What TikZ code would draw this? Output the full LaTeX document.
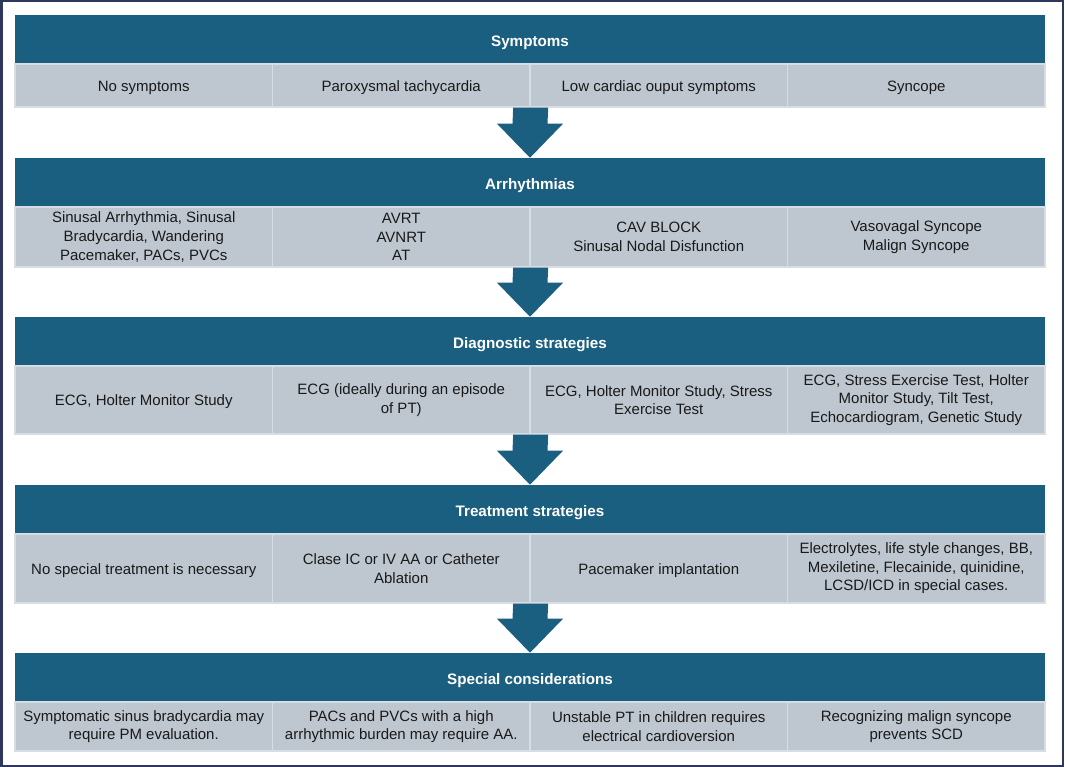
\documentclass[tikz,border=0pt]{standalone}
\usepackage{fontspec}
\setmainfont{Liberation Sans}
\usetikzlibrary{calc}
\definecolor{hdr}{RGB}{27,95,128}
\definecolor{cellbg}{RGB}{190,199,208}
\definecolor{celledge}{RGB}{214,221,228}
\definecolor{framecol}{RGB}{46,56,92}
\definecolor{txt}{RGB}{25,25,25}
\def\px{0.75pt}
\newcommand\flowarr[2]{%
  \fill[hdr] ($(#1)+(-17.5,0)$) -- ($(#2)+(-17.5,-34)$) -- ($(#2)+(-33,-34)$) -- (#2)
    -- ($(#2)+(33,-34)$) -- ($(#2)+(17.5,-34)$) -- ($(#1)+(17.5,0)$) -- cycle;}
\begin{document}
\begin{tikzpicture}[x=0.75pt,y=-0.75pt,
  hdrbox/.style={fill=hdr, minimum width=1030*\px, minimum height=49*\px, inner sep=0pt,
    text=white, font=\fontsize{11.4}{13}\selectfont\bfseries, text height=11.2pt, text depth=0pt},
  cellbox/.style={fill=cellbg, draw=celledge, line width=1pt, minimum width=257.5*\px,
    minimum height=#1*\px, inner sep=0pt, text=txt, align=center,
    font=\fontsize{11.25}{13.9}\selectfont},
  cellone/.style={cellbox=#1, text height=8.8pt, text depth=0pt}]
\useasboundingbox (0,0) rectangle (1065,767);
\draw[framecol, line width=1.5pt] (1.5,1.5) rectangle (1062.5,765.5);

% Band 1
\node[hdrbox] (h1) at (530,39.5) {Symptoms};
\node[cellone=43] (c11) at (143.75,85.5) {No symptoms};
\node[cellone=43] (c12) at (401.25,85.5) {Paroxysmal tachycardia};
\node[cellone=43] (c13) at (658.75,85.5) {Low cardiac ouput symptoms};
\node[cellone=43] (c14) at (916.25,85.5) {Syncope};

% Band 2
\node[hdrbox] (h2) at (530,182.5) {Arrhythmias};
\node[cellbox=60] (c21) at (143.75,237) {Sinusal Arrhythmia, Sinusal\\Bradycardia, Wandering\\Pacemaker, PACs, PVCs};
\node[cellbox=60] (c22) at (401.25,237) {AVRT\\AVNRT\\AT};
\node[cellbox=60] (c23) at (658.75,237) {CAV BLOCK\\Sinusal Nodal Disfunction};
\node[cellbox=60] (c24) at (916.25,237) {Vasovagal Syncope\\Malign Syncope};

% Band 3
\node[hdrbox] (h3) at (530,341.5) {Diagnostic strategies};
\node[cellone=68] (c31) at (143.75,400) {ECG, Holter Monitor Study};
\node[cellbox=68] (c32) at (401.25,400) {ECG (ideally during an episode\\of PT)};
\node[cellbox=68] (c33) at (658.75,400) {ECG, Holter Monitor Study, Stress\\Exercise Test};
\node[cellbox=68] (c34) at (916.25,400) {ECG, Stress Exercise Test, Holter\\Monitor Study, Tilt Test,\\Echocardiogram, Genetic Study};

% Band 4
\node[hdrbox] (h4) at (530,509.5) {Treatment strategies};
\node[cellone=69] (c41) at (143.75,568.5) {No special treatment is necessary};
\node[cellbox=69] (c42) at (401.25,568.5) {Clase IC or IV AA or Catheter\\Ablation};
\node[cellone=69] (c43) at (658.75,568.5) {Pacemaker implantation};
\node[cellbox=69] (c44) at (916.25,568.5) {Electrolytes, life style changes, BB,\\Mexiletine, Flecainide, quinidine,\\LCSD/ICD in special cases.};

% Band 5
\node[hdrbox] (h5) at (530,677.5) {Special considerations};
\node[cellbox=49] (c51) at (143.75,726.5) {Symptomatic sinus bradycardia may\\require PM evaluation.};
\node[cellbox=49] (c52) at (401.25,726.5) {PACs and PVCs with a high\\arrhythmic burden may require AA.};
\node[cellbox=49] (c53) at (658.75,726.5) {Unstable PT in children requires\\electrical cardioversion};
\node[cellbox=49] (c54) at (916.25,726.5) {Recognizing malign syncope\\prevents SCD};

% Arrows
\flowarr{c12.south east}{h2.north}
\flowarr{c22.south east}{h3.north}
\flowarr{c32.south east}{h4.north}
\flowarr{c42.south east}{h5.north}
\end{tikzpicture}
\end{document}
